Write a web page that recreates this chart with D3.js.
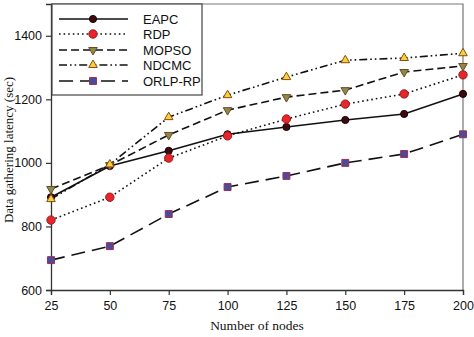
<!DOCTYPE html>
<html>
<head>
<meta charset="utf-8">
<script src="https://cdn.jsdelivr.net/npm/d3@7"></script>
<style>
  body { margin: 0; background: #fff; }
  svg { display: block; }
</style>
</head>
<body>
<div id="chart"></div>
<script>
// values
const nodes = [25, 50, 75, 100, 125, 150, 175, 200];
const eapc = [892, 990, 1038, 1090, 1113, 1135, 1154, 1217];
const rdp = [820, 892, 1015, 1085, 1138, 1185, 1217, 1277];
const mopso = [918, 993, 1088, 1166, 1207, 1229, 1286, 1305];
const ndcmc = [886, 995, 1144, 1213, 1270, 1323, 1330, 1345];
const orlp = [694, 738, 839, 924, 959, 1000, 1028, 1090];
const yTicks = [600, 800, 1000, 1200, 1400];

const series = [
  { name: "EAPC", vals: eapc, dash: null, sym: d3.symbolCircle, size: 40, fill: "#3b0b10", stroke: "#1a0000" },
  { name: "RDP", vals: rdp, dash: "1.6,3", sym: d3.symbolCircle, size: 55, fill: "#e8252b", stroke: "#9a1a1a" },
  { name: "MOPSO", vals: mopso, dash: "8,4", sym: "down", size: 32, fill: "#8e8a4c", stroke: "#6a4a24" },
  { name: "NDCMC", vals: ndcmc, dash: "8,3,1.6,3,1.6,3", sym: d3.symbolTriangle, size: 32, fill: "#f6d23a", stroke: "#8a4a12" },
  { name: "ORLP-RP", vals: orlp, dash: "14,7", sym: d3.symbolSquare, size: 48, fill: "#4b4a9c", stroke: "#9a3050" }
];

const width = 474, height = 337;
const margin = { left: 51, right: 11, top: 4, bottom: 47 };

const svg = d3.select("#chart").append("svg")
  .attr("width", width)
  .attr("height", height);

const x = d3.scaleLinear().domain([25, 200]).range([margin.left, width - margin.right]);
const y = d3.scaleLinear().domain([600, 1500]).range([height - margin.bottom, margin.top]);

// frame top + right
svg.append("path")
  .attr("d", `M${x(25)},${y(1500)}H${x(200)}V${y(600)}`)
  .attr("fill", "none")
  .attr("stroke", "#777")
  .attr("stroke-width", 1.2);

const xAxis = svg.append("g")
  .attr("transform", `translate(0,${y(600)})`)
  .call(d3.axisBottom(x).tickValues(nodes).tickFormat(d3.format("d")).tickSize(5).tickPadding(6));
const yAxis = svg.append("g")
  .attr("transform", `translate(${x(25)},0)`)
  .call(d3.axisLeft(y).tickValues(yTicks).tickFormat(d3.format("d")).tickSize(5).tickPadding(4));

[xAxis, yAxis].forEach(g => {
  g.select(".domain").attr("stroke", "#333").attr("stroke-width", 1.3);
  g.selectAll(".tick line").attr("stroke", "#333").attr("stroke-width", 1.2);
  g.selectAll("text")
    .attr("fill", "#111")
    .style("font-family", "'Liberation Sans', Arial, sans-serif")
    .style("font-size", "12.5px");
});

function symPath(s) {
  if (s.sym === "down") {
    return d3.symbol(d3.symbolTriangle, s.size)();
  }
  return d3.symbol(s.sym, s.size)();
}

const line = d3.line().x((d, i) => x(nodes[i])).y(d => y(d));

series.forEach(s => {
  svg.append("path")
    .datum(s.vals)
    .attr("fill", "none")
    .attr("stroke", "#111")
    .attr("stroke-width", 1.6)
    .attr("stroke-dasharray", s.dash)
    .attr("d", line);
});

series.forEach(s => {
  svg.append("g").selectAll("path")
    .data(s.vals)
    .join("path")
    .attr("d", symPath(s))
    .attr("transform", (d, i) => `translate(${x(nodes[i])},${y(d)})` + (s.sym === "down" ? " rotate(180)" : ""))
    .attr("fill", s.fill)
    .attr("stroke", s.stroke)
    .attr("stroke-width", 1);
});

// legend
const lg = svg.append("g");
lg.append("rect")
  .attr("x", 52).attr("y", 4)
  .attr("width", 150).attr("height", 91)
  .attr("fill", "#fff")
  .attr("stroke", "#444")
  .attr("stroke-width", 1.2);

const rowY = [19, 34, 50, 65, 81];
series.forEach((s, i) => {
  const ry = rowY[i];
  lg.append("line")
    .attr("x1", 59).attr("x2", 128)
    .attr("y1", ry).attr("y2", ry)
    .attr("stroke", "#111")
    .attr("stroke-width", 1.6)
    .attr("stroke-dasharray", s.dash);
  lg.append("path")
    .attr("d", symPath(s))
    .attr("transform", `translate(93,${ry})` + (s.sym === "down" ? " rotate(180)" : ""))
    .attr("fill", s.fill)
    .attr("stroke", s.stroke);
  lg.append("text")
    .attr("x", 143).attr("y", ry)
    .attr("dy", "0.36em")
    .style("font-family", "'Liberation Sans', Arial, sans-serif")
    .style("font-size", "13px")
    .attr("fill", "#111")
    .text(s.name);
});

// axis titles
svg.append("text")
  .attr("x", 257).attr("y", 330)
  .attr("text-anchor", "middle")
  .style("font-family", "'Liberation Serif', 'Times New Roman', serif")
  .style("font-size", "13.5px")
  .attr("fill", "#111")
  .text("Number of nodes");

svg.append("text")
  .attr("transform", "translate(13,150) rotate(-90)")
  .attr("text-anchor", "middle")
  .style("font-family", "'Liberation Serif', 'Times New Roman', serif")
  .style("font-size", "13px")
  .attr("fill", "#111")
  .text("Data gathering latency (sec)");
</script>
</body>
</html>
